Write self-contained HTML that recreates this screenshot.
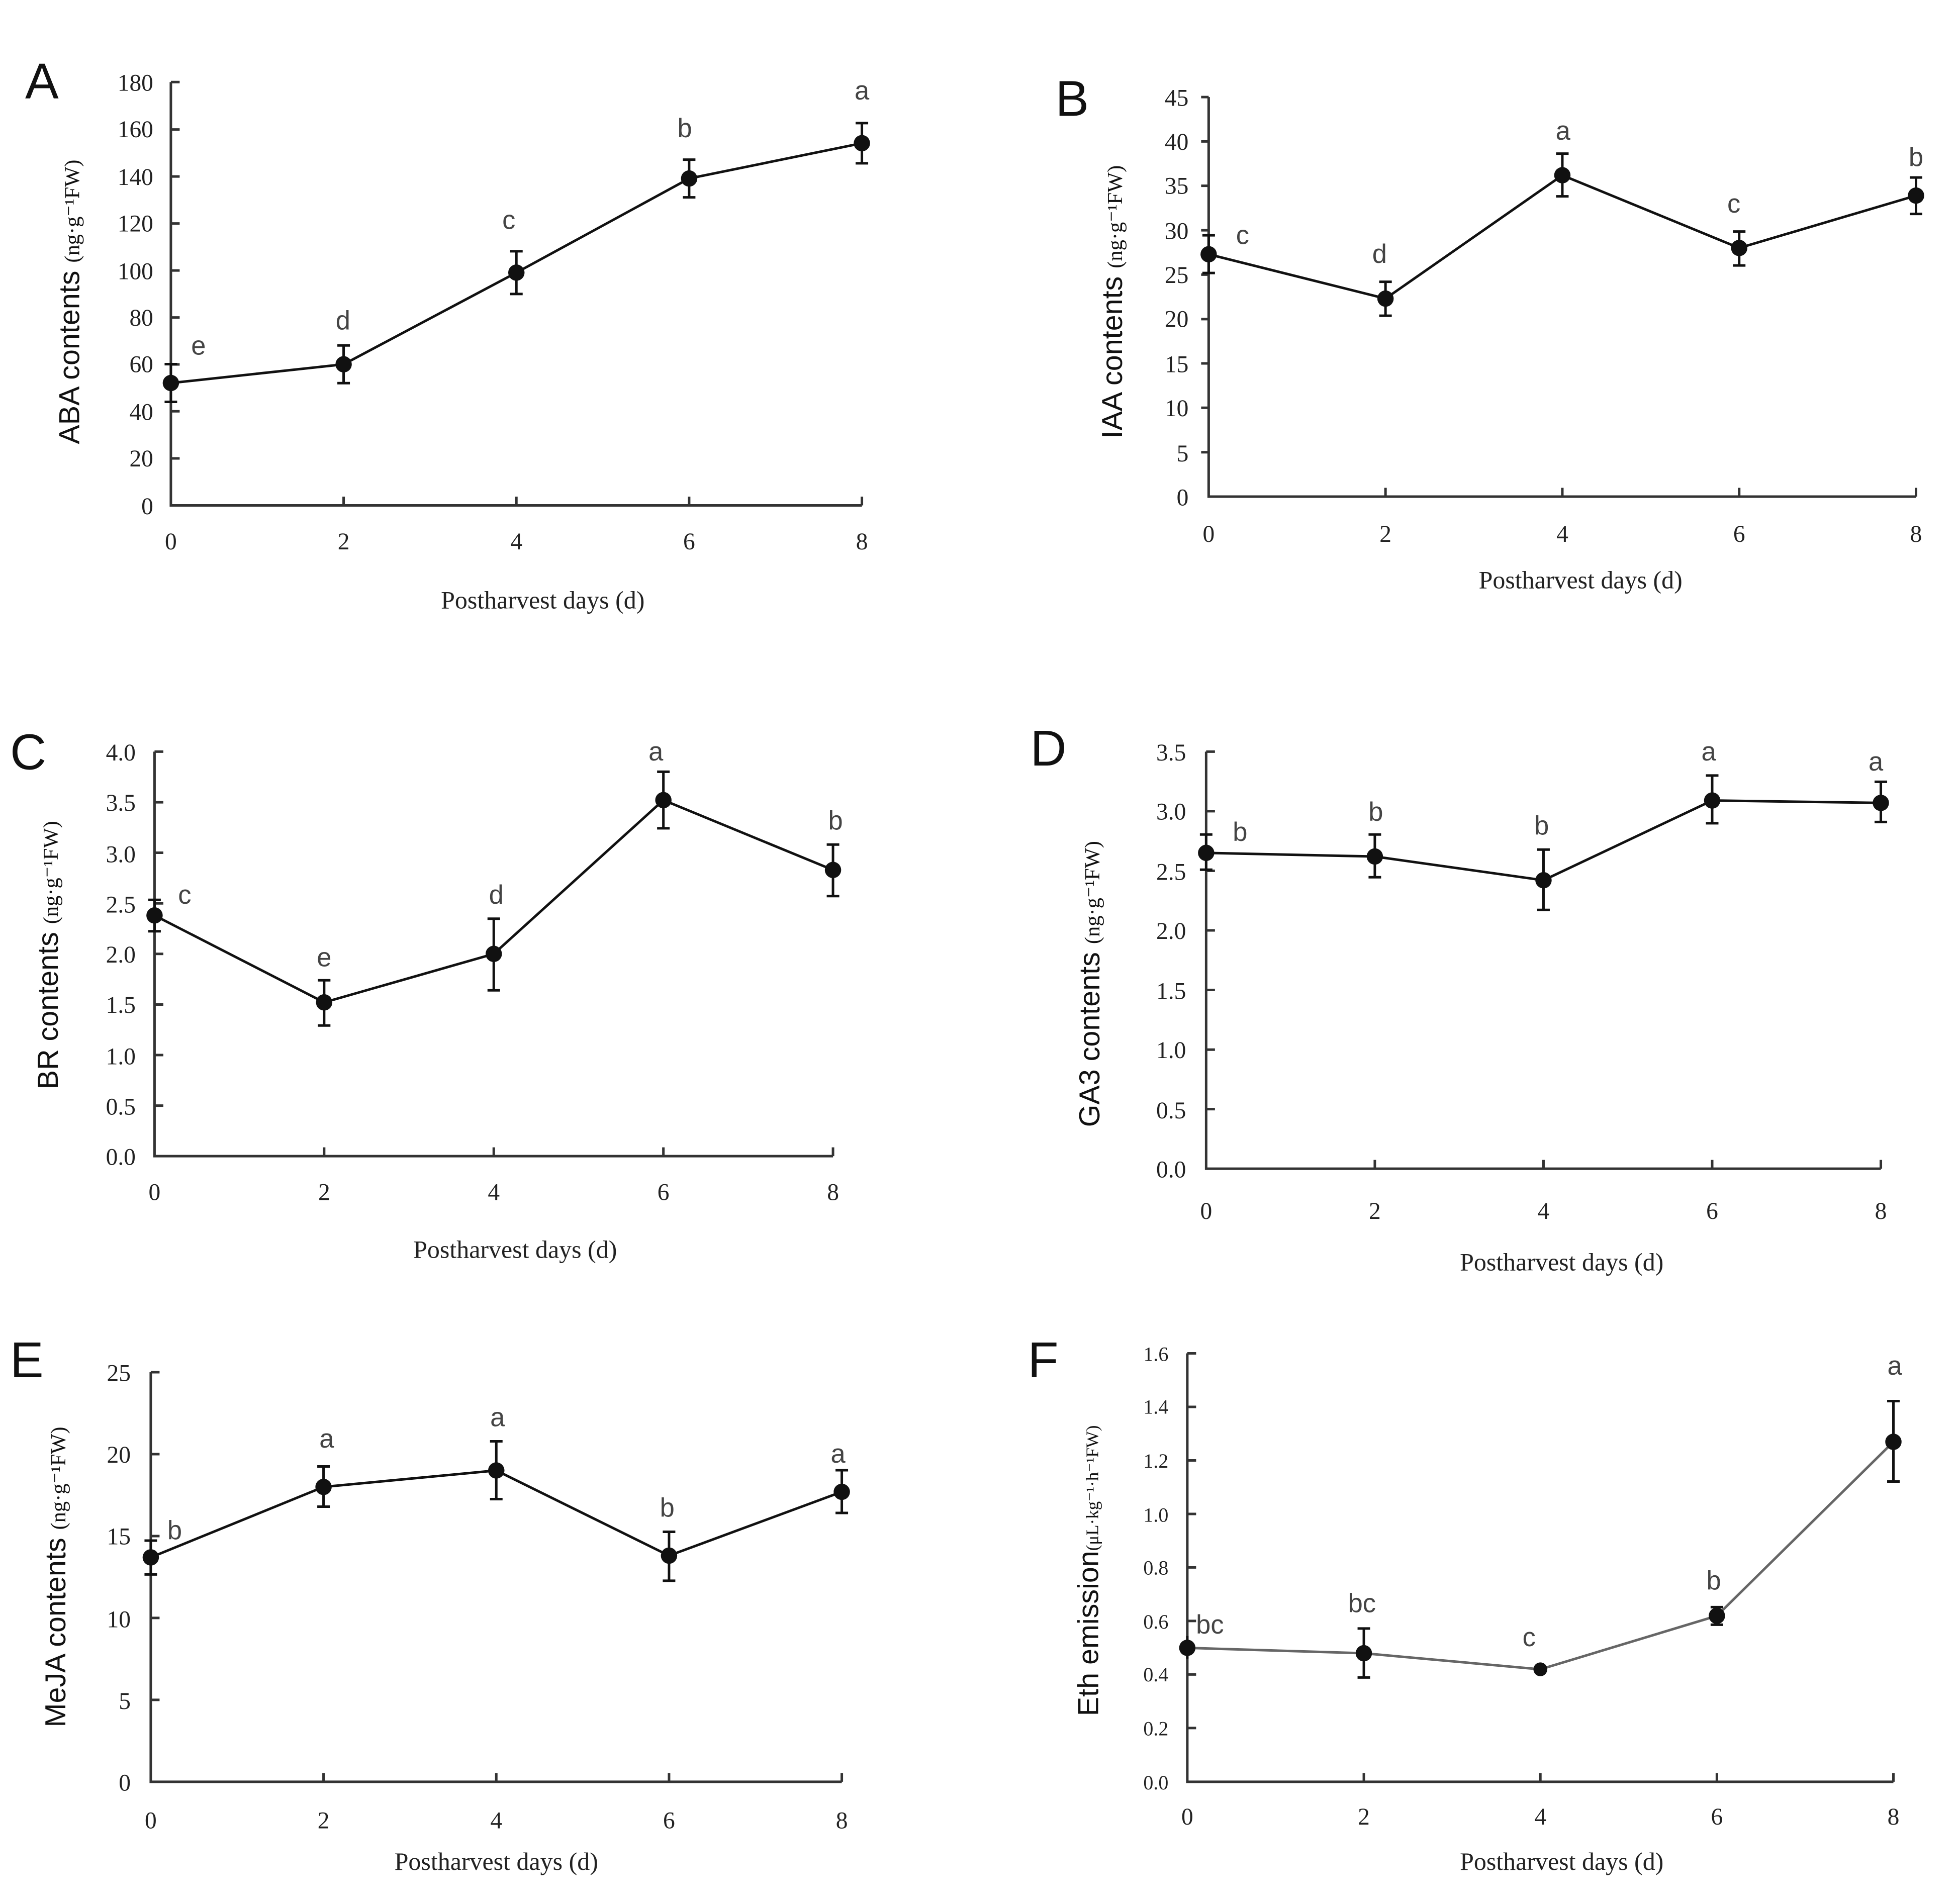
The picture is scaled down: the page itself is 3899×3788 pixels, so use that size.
<!DOCTYPE html>
<html><head><meta charset="utf-8"><style>
html,body{margin:0;padding:0;background:#fff}
svg{display:block}
.t{font-family:"Liberation Serif",serif;font-size:19px;fill:#222}
.yl{font-family:"Liberation Sans",sans-serif;font-size:23px;fill:#111}
.u{font-family:"Liberation Serif",serif;font-size:17px;fill:#111}
.xl{font-family:"Liberation Serif",serif;font-size:20px;fill:#222}
.L{font-family:"Liberation Sans",sans-serif;font-size:40px;fill:#111}
.s{font-family:"Liberation Sans",sans-serif;font-size:21px;fill:#444}
.ax{stroke:#333;stroke-width:2;fill:none}
.ln{stroke:#111;stroke-width:2;fill:none}
.eb{stroke:#111;stroke-width:2}
</style></head><body>
<svg width="3899" height="3788" viewBox="0 0 1560 1515" xmlns="http://www.w3.org/2000/svg">
<rect width="1560" height="1515" fill="#fff"/>

<!-- Panel A -->
<text class="L" x="20" y="78">A</text>
<path class="ax" d="M136 65V402H686M136 65h7M136 102.8h7M136 140.2h7M136 177.6h7M136 215h7M136 252.4h7M136 289.8h7M136 327.1h7M136 364.6h7M273.5 402v-7M411 402v-7M548.5 402v-7M686 402v-7"/>
<g class="t" text-anchor="end"><text x="122" y="72">180</text><text x="122" y="109">160</text><text x="122" y="147">140</text><text x="122" y="184">120</text><text x="122" y="222">100</text><text x="122" y="259">80</text><text x="122" y="296">60</text><text x="122" y="334">40</text><text x="122" y="371">20</text><text x="122" y="409">0</text></g>
<g class="t" text-anchor="middle"><text x="136" y="437">0</text><text x="273.5" y="437">2</text><text x="411" y="437">4</text><text x="548.5" y="437">6</text><text x="686" y="437">8</text></g>
<text class="xl" x="432" y="484" text-anchor="middle">Postharvest days (d)</text>
<text transform="translate(63,240) rotate(-90)" text-anchor="middle"><tspan class="yl">ABA contents </tspan><tspan class="u">(ng·g⁻¹FW)</tspan></text>
<polyline class="ln" points="136,304.6 273.5,289.7 411,216.7 548.5,141.8 686,113.7"/>
<path class="eb" d="M136 289.6v30M131 289.6h10M131 319.6h10M273.5 274.7v30M268.5 274.7h10M268.5 304.7h10M411 199.7v34M406 199.7h10M406 233.7h10M548.5 126.8v30M543.5 126.8h10M543.5 156.8h10M686 97.7v32M681 97.7h10M681 129.7h10"/>
<g fill="#111"><circle cx="136" cy="304.6" r="6.5"/><circle cx="273.5" cy="289.7" r="6.5"/><circle cx="411" cy="216.7" r="6.5"/><circle cx="548.5" cy="141.8" r="6.5"/><circle cx="686" cy="113.7" r="6.5"/></g>
<g class="s" text-anchor="middle"><text x="158" y="282">e</text><text x="273" y="262">d</text><text x="405" y="182">c</text><text x="545" y="109">b</text><text x="686" y="79">a</text></g>

<!-- Panel B -->
<text class="L" x="840" y="92">B</text>
<path class="ax" d="M962 77V395H1525M962 77h-6M962 112.3h-6M962 147.6h-6M962 183h-6M962 218.3h-6M962 253.7h-6M962 289h-6M962 324.3h-6M962 359.7h-6M1102.75 395v-7M1243.5 395v-7M1384.25 395v-7M1525 395v-7"/>
<g class="t" text-anchor="end"><text x="946" y="84">45</text><text x="946" y="119">40</text><text x="946" y="154">35</text><text x="946" y="190">30</text><text x="946" y="225">25</text><text x="946" y="260">20</text><text x="946" y="296">15</text><text x="946" y="331">10</text><text x="946" y="367">5</text><text x="946" y="402">0</text></g>
<g class="t" text-anchor="middle"><text x="962" y="431">0</text><text x="1102.75" y="431">2</text><text x="1243.5" y="431">4</text><text x="1384.25" y="431">6</text><text x="1525" y="431">8</text></g>
<text class="xl" x="1258" y="468" text-anchor="middle">Postharvest days (d)</text>
<text transform="translate(893,240) rotate(-90)" text-anchor="middle"><tspan class="yl">IAA contents </tspan><tspan class="u">(ng·g⁻¹FW)</tspan></text>
<polyline class="ln" points="962,202.1 1102.75,237.4 1243.5,139.2 1384.25,197.1 1525,155.4"/>
<path class="eb" d="M962 187v30M957 187h10M957 217h10M1102.75 224v27M1097.75 224h10M1097.75 251h10M1243.5 122v34M1238.5 122h10M1238.5 156h10M1384.25 184v27M1379.25 184h10M1379.25 211h10M1525 141v29M1520 141h10M1520 170h10"/>
<g fill="#111"><circle cx="962" cy="202.1" r="6.5"/><circle cx="1102.75" cy="237.4" r="6.5"/><circle cx="1243.5" cy="139.2" r="6.5"/><circle cx="1384.25" cy="197.1" r="6.5"/><circle cx="1525" cy="155.4" r="6.5"/></g>
<g class="s" text-anchor="middle"><text x="989" y="194">c</text><text x="1098" y="209">d</text><text x="1244" y="111">a</text><text x="1380" y="169">c</text><text x="1525" y="132">b</text></g>

<!-- Panel C -->
<text class="L" x="8" y="612">C</text>
<path class="ax" d="M123 598V920H663M123 598h7M123 638.3h7M123 678.5h7M123 718.8h7M123 759h7M123 799.3h7M123 839.5h7M123 879.8h7M258 920v-7M393 920v-7M528 920v-7M663 920v-7"/>
<g class="t" text-anchor="end"><text x="108" y="605">4.0</text><text x="108" y="645">3.5</text><text x="108" y="686">3.0</text><text x="108" y="726">2.5</text><text x="108" y="766">2.0</text><text x="108" y="806">1.5</text><text x="108" y="847">1.0</text><text x="108" y="887">0.5</text><text x="108" y="927">0.0</text></g>
<g class="t" text-anchor="middle"><text x="123" y="955">0</text><text x="258" y="955">2</text><text x="393" y="955">4</text><text x="528" y="955">6</text><text x="663" y="955">8</text></g>
<text class="xl" x="410" y="1001" text-anchor="middle">Postharvest days (d)</text>
<text transform="translate(46,760) rotate(-90)" text-anchor="middle"><tspan class="yl">BR contents </tspan><tspan class="u">(ng·g⁻¹FW)</tspan></text>
<polyline class="ln" points="123,728.4 258,797.6 393,759 528,636.6 663,692.2"/>
<path class="eb" d="M123 716v25M118 716h10M118 741h10M258 780v36M253 780h10M253 816h10M393 731v57M388 731h10M388 788h10M528 614v45M523 614h10M523 659h10M663 672v41M658 672h10M658 713h10"/>
<g fill="#111"><circle cx="123" cy="728.4" r="6.5"/><circle cx="258" cy="797.6" r="6.5"/><circle cx="393" cy="759" r="6.5"/><circle cx="528" cy="636.6" r="6.5"/><circle cx="663" cy="692.2" r="6.5"/></g>
<g class="s" text-anchor="middle"><text x="147" y="719">c</text><text x="258" y="769">e</text><text x="395" y="719">d</text><text x="522" y="605">a</text><text x="665" y="660">b</text></g>

<!-- Panel D -->
<text class="L" x="820" y="609">D</text>
<path class="ax" d="M960 598V930H1497M960 598h7M960 645.4h7M960 692.9h7M960 740.3h7M960 787.7h7M960 835.2h7M960 882.6h7M1094.25 930v-7M1228.5 930v-7M1362.75 930v-7M1497 930v-7"/>
<g class="t" text-anchor="end"><text x="944" y="605">3.5</text><text x="944" y="652">3.0</text><text x="944" y="700">2.5</text><text x="944" y="747">2.0</text><text x="944" y="795">1.5</text><text x="944" y="842">1.0</text><text x="944" y="890">0.5</text><text x="944" y="937">0.0</text></g>
<g class="t" text-anchor="middle"><text x="960" y="970">0</text><text x="1094.25" y="970">2</text><text x="1228.5" y="970">4</text><text x="1362.75" y="970">6</text><text x="1497" y="970">8</text></g>
<text class="xl" x="1243" y="1011" text-anchor="middle">Postharvest days (d)</text>
<text transform="translate(875,783) rotate(-90)" text-anchor="middle"><tspan class="yl">GA3 contents </tspan><tspan class="u">(ng·g⁻¹FW)</tspan></text>
<polyline class="ln" points="960,678.6 1094.25,681.5 1228.5,700.4 1362.75,636.9 1497,638.8"/>
<path class="eb" d="M960 664v28M955 664h10M955 692h10M1094.25 664v34M1089.25 664h10M1089.25 698h10M1228.5 676v48M1223.5 676h10M1223.5 724h10M1362.75 617v38M1357.75 617h10M1357.75 655h10M1497 622v32M1492 622h10M1492 654h10"/>
<g fill="#111"><circle cx="960" cy="678.6" r="6.5"/><circle cx="1094.25" cy="681.5" r="6.5"/><circle cx="1228.5" cy="700.4" r="6.5"/><circle cx="1362.75" cy="636.9" r="6.5"/><circle cx="1497" cy="638.8" r="6.5"/></g>
<g class="s" text-anchor="middle"><text x="987" y="669">b</text><text x="1095" y="653">b</text><text x="1227" y="664">b</text><text x="1360" y="605">a</text><text x="1493" y="613">a</text></g>

<!-- Panel E -->
<text class="L" x="8" y="1096">E</text>
<path class="ax" d="M120 1092V1418H670M120 1092h7M120 1157.2h7M120 1222.4h7M120 1287.6h7M120 1352.8h7M257.5 1418v-7M395 1418v-7M532.5 1418v-7M670 1418v-7"/>
<g class="t" text-anchor="end"><text x="104" y="1099">25</text><text x="104" y="1164">20</text><text x="104" y="1229">15</text><text x="104" y="1295">10</text><text x="104" y="1360">5</text><text x="104" y="1425">0</text></g>
<g class="t" text-anchor="middle"><text x="120" y="1455">0</text><text x="257.5" y="1455">2</text><text x="395" y="1455">4</text><text x="532.5" y="1455">6</text><text x="670" y="1455">8</text></g>
<text class="xl" x="395" y="1488" text-anchor="middle">Postharvest days (d)</text>
<text transform="translate(52,1255) rotate(-90)" text-anchor="middle"><tspan class="yl">MeJA contents </tspan><tspan class="u">(ng·g⁻¹FW)</tspan></text>
<polyline class="ln" points="120,1239.4 257.5,1183.3 395,1170.2 532.5,1238 670,1187.2"/>
<path class="eb" d="M120 1226v27M115 1226h10M115 1253h10M257.5 1167v32M252.5 1167h10M252.5 1199h10M395 1147v46M390 1147h10M390 1193h10M532.5 1219v39M527.5 1219h10M527.5 1258h10M670 1170v34M665 1170h10M665 1204h10"/>
<g fill="#111"><circle cx="120" cy="1239.4" r="6.5"/><circle cx="257.5" cy="1183.3" r="6.5"/><circle cx="395" cy="1170.2" r="6.5"/><circle cx="532.5" cy="1238" r="6.5"/><circle cx="670" cy="1187.2" r="6.5"/></g>
<g class="s" text-anchor="middle"><text x="139" y="1225">b</text><text x="260" y="1152">a</text><text x="396" y="1135">a</text><text x="531" y="1207">b</text><text x="667" y="1164">a</text></g>

<!-- Panel F -->
<text class="L" x="818" y="1096">F</text>
<path class="ax" d="M945 1077V1418H1507M945 1077h7M945 1119.6h7M945 1162.2h7M945 1204.8h7M945 1247.4h7M945 1290h7M945 1332.6h7M945 1375.2h7M1085.5 1418v-7M1226 1418v-7M1366.5 1418v-7M1507 1418v-7"/>
<g class="t" text-anchor="end" style="font-size:16px"><text x="930" y="1083">1.6</text><text x="930" y="1125">1.4</text><text x="930" y="1168">1.2</text><text x="930" y="1211">1.0</text><text x="930" y="1253">0.8</text><text x="930" y="1296">0.6</text><text x="930" y="1338">0.4</text><text x="930" y="1381">0.2</text><text x="930" y="1424">0.0</text></g>
<g class="t" text-anchor="middle"><text x="945" y="1452">0</text><text x="1085.5" y="1452">2</text><text x="1226" y="1452">4</text><text x="1366.5" y="1452">6</text><text x="1507" y="1452">8</text></g>
<text class="xl" x="1243" y="1488" text-anchor="middle">Postharvest days (d)</text>
<text transform="translate(874,1250) rotate(-90)" text-anchor="middle"><tspan class="yl">Eth emission</tspan><tspan class="u" style="font-size:14px">(μL·kg⁻¹·h⁻¹FW)</tspan></text>
<polyline points="945,1311.4 1085.5,1315.7 1226,1328.5 1366.5,1285.9 1507,1147.4" fill="none" stroke="#666" stroke-width="2"/>
<path class="eb" d="M945 1302v18M1085.5 1296v39M1080.5 1296h10M1080.5 1335h10M1226 1326v5M1366.5 1279v14M1361.5 1279h10M1361.5 1293h10M1507 1115v64M1502 1115h10M1502 1179h10"/>
<g fill="#111"><circle cx="945" cy="1311.4" r="6.5"/><circle cx="1085.5" cy="1315.7" r="6.5"/><circle cx="1226" cy="1328.5" r="5.5"/><circle cx="1366.5" cy="1285.9" r="6.5"/><circle cx="1507" cy="1147.4" r="6.5"/></g>
<g class="s" text-anchor="middle"><text x="963" y="1300">bc</text><text x="1084" y="1283">bc</text><text x="1217" y="1310">c</text><text x="1364" y="1265">b</text><text x="1508" y="1094">a</text></g>
</svg>
</body></html>
